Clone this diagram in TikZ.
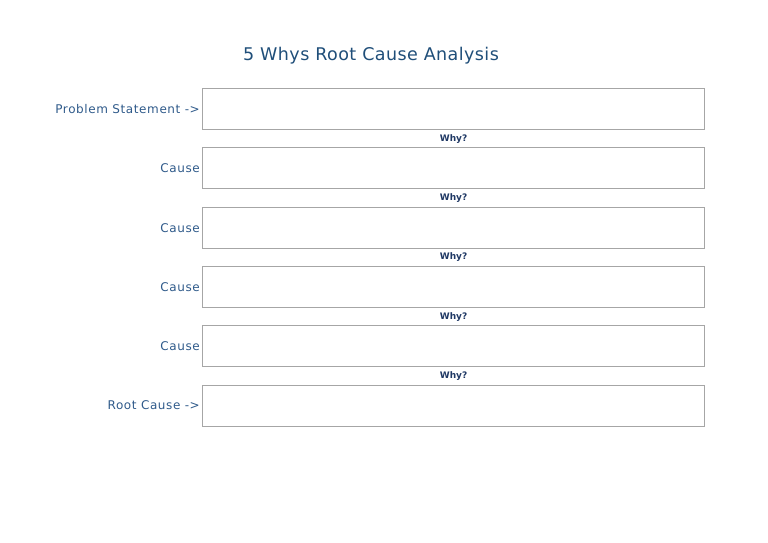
\documentclass[tikz,border=0pt]{standalone}
\usepackage{fontspec}
\setmainfont{DejaVu Sans}
\newfontfamily\titlefont[LetterSpace=2.4]{DejaVu Sans}
\newfontfamily\labelfont[LetterSpace=5]{DejaVu Sans}
\usetikzlibrary{calc}
\definecolor{titleblue}{HTML}{1F4E79}
\definecolor{labelblue}{HTML}{2F5A8A}
\definecolor{whyblue}{HTML}{1F3864}
\definecolor{boxgray}{HTML}{A6A6A6}
\begin{document}
\begin{tikzpicture}[x=1pt,y=-1pt,
  answerbox/.style={draw=boxgray,line width=1.1pt,minimum width=502pt,minimum height=41pt,inner sep=0pt,anchor=north west},
  rowlabel/.style={text=labelblue,font=\labelfont\fontsize{12}{14}\selectfont,anchor=east,inner sep=0pt},
  whylabel/.style={text=whyblue,font=\fontsize{9}{10}\selectfont\bfseries,inner sep=0pt},
  titletext/.style={text=titleblue,font=\titlefont\fontsize{17.5}{20}\selectfont}]
\useasboundingbox (0,0) rectangle (768,543);
\node[titletext] (title) at (371,55.5) {5 Whys Root Cause Analysis};
\node[answerbox] (b1) at (202,88) {};
\node[answerbox] (b2) at (202,147.3) {};
\node[answerbox] (b3) at (202,206.6) {};
\node[answerbox] (b4) at (202,265.9) {};
\node[answerbox] (b5) at (202,325.2) {};
\node[answerbox] (b6) at (202,384.5) {};
\node[rowlabel] (l1) at ([xshift=-2pt]b1.west) {Problem Statement ->};
\node[rowlabel] (l2) at ([xshift=-2pt]b2.west) {Cause};
\node[rowlabel] (l3) at ([xshift=-2pt]b3.west) {Cause};
\node[rowlabel] (l4) at ([xshift=-2pt]b4.west) {Cause};
\node[rowlabel] (l5) at ([xshift=-2pt]b5.west) {Cause};
\node[rowlabel] (l6) at ([xshift=-2pt]b6.west) {Root Cause ->};
\node[whylabel] (w1) at ($(b1.south)!0.5!(b2.north)$) {Why?};
\node[whylabel] (w2) at ($(b2.south)!0.5!(b3.north)$) {Why?};
\node[whylabel] (w3) at ($(b3.south)!0.5!(b4.north)$) {Why?};
\node[whylabel] (w4) at ($(b4.south)!0.5!(b5.north)$) {Why?};
\node[whylabel] (w5) at ($(b5.south)!0.5!(b6.north)$) {Why?};
\end{tikzpicture}
\end{document}
